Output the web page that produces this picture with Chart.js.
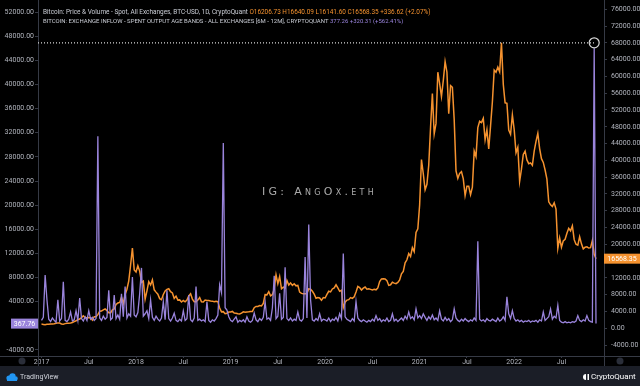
<!DOCTYPE html>
<html>
<head>
<meta charset="utf-8">
<script src="https://cdn.jsdelivr.net/npm/chart.js@4.4.0/dist/chart.umd.min.js"></script>
<style>
html, body { margin: 0; padding: 0; background: #000; }
</style>
</head>
<body>
<canvas id="btcChart" width="640" height="386"></canvas>
<script>
// weekly samples, index i -> year + i/52
var years = [2017, 2018, 2019, 2020, 2021, 2022];

var price2017 = [1000, 910, 820, 925, 920, 1025, 1000, 1055, 1180, 1270, 1230, 1020, 970, 1090, 1190, 1180, 1250, 1350, 1560, 1780, 2040, 2200, 2520, 2950, 2550, 2500, 2560, 2500, 1930, 2750, 2750, 3230, 4060, 4080, 4350, 4600, 4200, 3690, 3660, 4400, 4600, 5680, 6000, 6150, 7400, 5880, 8040, 9300, 11300, 15000, 19100, 13900];
var price2018 = [13400, 14900, 13600, 10900, 11200, 6900, 8900, 11100, 10300, 11500, 9150, 8600, 8100, 7050, 6800, 8050, 8900, 9250, 9400, 8700, 8400, 7100, 7650, 6700, 6750, 6250, 6600, 6300, 6700, 7700, 8200, 6950, 6300, 6300, 6700, 7300, 6300, 6250, 6700, 6600, 6600, 6500, 6450, 6300, 6400, 6350, 4800, 3900, 3950, 3450, 3550, 3850];
var price2019 = [3850, 4000, 3600, 3580, 3430, 3400, 3600, 3900, 3800, 3850, 3900, 4000, 4000, 4900, 5200, 5200, 5400, 5300, 5900, 8000, 7950, 8700, 7700, 8000, 9300, 12700, 10600, 12300, 9400, 9800, 9600, 11400, 10300, 10800, 10200, 10600, 10100, 10200, 8600, 8300, 8200, 8200, 8250, 9400, 9300, 8800, 8100, 7150, 7300, 7200, 6650, 7300];
var price2020 = [7200, 8050, 8800, 8650, 9350, 9600, 10350, 9600, 8800, 9050, 4900, 6200, 6700, 6800, 7300, 7100, 7500, 8650, 9950, 9700, 9100, 9550, 9800, 9300, 9400, 9250, 9100, 9250, 9150, 9600, 11100, 11750, 11800, 11750, 11350, 10200, 10350, 10950, 10750, 10600, 10900, 11500, 12950, 13550, 15600, 16300, 17800, 17100, 19200, 18250, 22800, 23700];
var price2021 = [29400, 40200, 36800, 33000, 34300, 38900, 47900, 55900, 46300, 48800, 61000, 58300, 55200, 59000, 63500, 61000, 51100, 57800, 57400, 49700, 37500, 35700, 36900, 37300, 35600, 31600, 33800, 33800, 31800, 33600, 42200, 40900, 47800, 49300, 49000, 50000, 44900, 47300, 42700, 48200, 53900, 61500, 61000, 62200, 61100, 68000, 58100, 53700, 53600, 47200, 46200, 50800];
var price2022 = [47300, 41800, 43100, 35000, 37900, 41400, 42200, 40100, 39200, 39400, 38800, 42200, 44500, 46400, 42800, 40400, 39500, 37700, 35500, 30100, 29400, 29000, 29900, 28400, 19000, 21500, 19300, 20800, 21200, 22600, 23800, 23200, 24400, 21100, 20000, 19800, 21800, 20100, 18900, 19300, 19400, 19100, 19200, 20900, 17600, 16568.35];

var inflow2017 = [900, 1400, 8400, 4300, 1100, 700, 1300, 900, 600, 4300, 800, 1200, 7300, 900, 700, 1100, 2300, 800, 1000, 2500, 900, 4600, 1200, 800, 1500, 900, 2500, 1100, 1400, 900, 1200, 31400, 1300, 900, 1600, 1100, 1400, 5900, 1000, 1300, 5100, 1200, 1800, 1100, 5300, 1500, 6500, 1300, 2000, 1600, 8100, 1800];
var inflow2018 = [1500, 2200, 5300, 9600, 1600, 2000, 2500, 1200, 4300, 1400, 900, 1600, 1100, 800, 1300, 4000, 1000, 5900, 1200, 800, 1300, 2100, 900, 700, 1100, 800, 2500, 900, 1200, 5100, 1000, 700, 1300, 6500, 900, 1100, 800, 1000, 700, 4000, 900, 600, 1000, 800, 1200, 1800, 6800, 5500, 30300, 3000, 2600, 1500];
var inflow2019 = [900, 700, 1100, 1500, 600, 900, 700, 1000, 600, 1500, 800, 600, 900, 2100, 1000, 700, 1200, 900, 1400, 4000, 1100, 1300, 900, 3000, 8300, 1200, 1600, 5400, 1100, 1400, 9700, 1200, 900, 1300, 800, 1100, 900, 2300, 1000, 800, 1200, 11400, 1300, 16800, 4300, 1000, 800, 1200, 900, 2000, 800, 1100];
var inflow2020 = [1000, 800, 1300, 700, 1100, 900, 1400, 800, 2000, 1200, 12000, 1500, 1100, 900, 700, 1200, 800, 4000, 1300, 900, 700, 1000, 800, 600, 900, 700, 1100, 800, 1700, 900, 1200, 700, 1000, 800, 1300, 700, 900, 2000, 800, 1100, 700, 1000, 1300, 900, 1600, 1100, 2300, 1200, 1500, 1000, 2800, 1300];
var inflow2021 = [1700, 1200, 2000, 1400, 900, 1500, 1100, 1800, 1000, 1300, 900, 2500, 1100, 800, 1400, 900, 1200, 700, 1000, 2800, 1300, 900, 700, 1100, 800, 1200, 900, 700, 1000, 800, 1300, 900, 14000, 1100, 800, 1000, 700, 1200, 900, 800, 1100, 900, 700, 1300, 800, 1000, 1500, 900, 4800, 2000, 1200, 2500];
var inflow2022 = [1200, 800, 1000, 700, 900, 600, 800, 700, 900, 600, 800, 700, 900, 600, 1000, 800, 2300, 900, 1200, 1500, 2800, 1100, 1600, 1300, 3400, 900, 600, 500, 700, 500, 600, 500, 700, 600, 800, 1700, 900, 700, 1000, 800, 1700, 900, 700, 600, 46000, 377.26];

var priceByYear = [price2017, price2018, price2019, price2020, price2021, price2022];
var inflowByYear = [inflow2017, inflow2018, inflow2019, inflow2020, inflow2021, inflow2022];

var athPrice = 68000;
var lastPrice = 16568.35;
var lastInflowLabel = 367.76;

var leftTicks = [-4000, 0, 4000, 8000, 12000, 16000, 20000, 24000, 28000, 32000, 36000, 40000, 44000, 48000, 52000];
var rightTicks = [-4000, 0, 4000, 8000, 12000, 16000, 20000, 24000, 28000, 32000, 36000, 40000, 44000, 48000, 52000, 56000, 60000, 64000, 68000, 72000, 76000];
var xTicks = [2017, 2017.5, 2018, 2018.5, 2019, 2019.5, 2020, 2020.5, 2021, 2021.5, 2022, 2022.5];

var ORANGE = '#f5922f';
var PURPLE = '#9a84dc';
var GREY = '#b2b5be';
var LINE = '#363a45';

function toPoints(byYear) {
  var pts = [];
  byYear.forEach(function (arr, k) {
    arr.forEach(function (v, i) {
      pts.push({ x: years[k] + i / 52, y: v });
    });
  });
  return pts;
}

var pricePts = toPoints(priceByYear);
var inflowPts = toPoints(inflowByYear);

// spike where the dotted ATH marker ends
var spikeIdx = inflow2022.indexOf(Math.max.apply(null, inflow2022));
var spikeX = 2022 + spikeIdx / 52;
var xMin = 2016.963;

// keep the plot flush with the top edge
function noVPad(s) { s.paddingTop = 0; s.paddingBottom = 0; }

var decor = {
  id: 'decor',
  beforeDraw: function (chart) {
    var c = chart.ctx;
    c.save();
    c.fillStyle = '#000';
    c.fillRect(0, 0, 640, 386);
    c.fillStyle = '#1b1e27';
    c.fillRect(0, 366, 640, 20);
    c.restore();
  },
  beforeDatasetsDraw: function (chart) {
    var c = chart.ctx;
    c.save();
    var txt = 'IG: AngOx.eth';
    c.font = 'small-caps 11px "DejaVu Sans"';
    var w = c.measureText(txt).width;
    var sp = (115 - w) / txt.length;
    c.letterSpacing = sp.toFixed(2) + 'px';
    c.fillStyle = 'rgba(200,200,200,0.85)';
    c.textBaseline = 'middle';
    c.textAlign = 'left';
    c.fillText(txt, 262, 192);
    c.restore();
  },
  afterDraw: function (chart) {
    var c = chart.ctx;
    var a = chart.chartArea;
    c.save();

    // header legend rows
    function row(parts, y, target) {
      c.font = '7px Roboto';
      var w0 = c.measureText(parts[0][0]).width;
      var size = 7 * target / w0;
      c.font = size.toFixed(2) + 'px Roboto';
      c.textBaseline = 'middle';
      c.textAlign = 'left';
      var x = 43;
      parts.forEach(function (p) {
        c.fillStyle = p[1];
        c.fillText(p[0], x, y);
        x += c.measureText(p[0]).width;
      });
    }
    row([['Bitcoin: Price & Volume - Spot, All Exchanges, BTC-USD, 1D, CryptoQuant', '#c9ccd4'],
         [' O16206.73 H16640.09 L16141.60 C16568.35 +336.62 (+2.07%)', ORANGE]], 12, 205);
    row([['BITCOIN: EXCHANGE INFLOW - SPENT OUTPUT AGE BANDS - ALL EXCHANGES [6M - 12M], CRYPTOQUANT', '#c9ccd4'],
         [' 377.26 +320.31 (+562.41%)', PURPLE]], 22, 286);

    // price boxes on the axes
    c.font = '7px Roboto';
    c.textAlign = 'center';
    c.textBaseline = 'middle';
    var yl = chart.scales.y.getPixelForValue(lastInflowLabel);
    c.fillStyle = PURPLE;
    c.fillRect(11, yl - 5, a.left - 11, 10);
    c.fillStyle = '#fff';
    c.fillText(lastInflowLabel.toFixed(2), (11 + a.left) / 2, yl + 0.5);
    var yr = chart.scales.y1.getPixelForValue(lastPrice);
    c.fillStyle = ORANGE;
    c.fillRect(a.right, yr - 5, 36, 10);
    c.fillStyle = '#fff';
    c.fillText(lastPrice.toFixed(2), a.right + 18, yr + 0.5);

    // axis frame below the plot
    c.strokeStyle = LINE;
    c.lineWidth = 1;
    c.beginPath();
    c.moveTo(0, a.bottom + 0.5); c.lineTo(640, a.bottom + 0.5);
    c.moveTo(a.left + 0.5, a.bottom); c.lineTo(a.left + 0.5, 366);
    c.moveTo(a.right + 0.5, a.bottom); c.lineTo(a.right + 0.5, 366);
    c.stroke();
    c.fillStyle = '#2a2e39';
    c.beginPath(); c.arc(22, 361, 3.5, 0, Math.PI * 2); c.fill();
    c.beginPath(); c.arc(620, 361, 3.5, 0, Math.PI * 2); c.fill();

    // footer
    c.fillStyle = '#2196f3';
    c.beginPath();
    c.arc(9, 378, 2.6, 0, Math.PI * 2);
    c.arc(12.5, 376.5, 3.2, 0, Math.PI * 2);
    c.arc(15.5, 378.5, 2.3, 0, Math.PI * 2);
    c.fill();
    c.fillRect(7, 378, 10, 3);
    c.fillStyle = '#d1d4dc';
    c.textAlign = 'left';
    c.font = '7px Roboto';
    c.fillText('TradingView', 20, 377);
    c.fillStyle = '#ffffff';
    c.beginPath(); c.arc(586, 377, 3, Math.PI / 2, Math.PI * 1.5); c.fill();
    c.fillRect(587.5, 374, 1.5, 6);
    c.font = '8px Roboto';
    c.fillText('CryptoQuant', 591, 377);
    c.restore();
  }
};

new Chart(document.getElementById('btcChart'), {
  type: 'line',
  data: {
    datasets: [
      {
        label: 'ATH',
        data: [{ x: xMin, y: athPrice }, { x: spikeX, y: athPrice }],
        yAxisID: 'y1',
        borderColor: '#d8d8d8',
        borderWidth: 1.2,
        borderDash: [1, 2],
        pointRadius: [0, 5],
        pointBorderColor: '#d8d8d8',
        pointBorderWidth: 1.2,
        pointBackgroundColor: 'rgba(0,0,0,0)'
      },
      {
        label: 'Exchange inflow 6M-12M',
        data: inflowPts,
        yAxisID: 'y',
        borderColor: PURPLE,
        borderWidth: 1.3,
        pointRadius: 0,
        tension: 0
      },
      {
        label: 'BTC-USD',
        data: pricePts,
        yAxisID: 'y1',
        borderColor: ORANGE,
        borderWidth: 1.5,
        pointRadius: 0,
        tension: 0
      }
    ]
  },
  options: {
    responsive: false,
    animation: false,
    devicePixelRatio: 1,
    layout: { autoPadding: false, padding: { left: 0, right: 0, top: 0, bottom: 20 } },
    plugins: { legend: { display: false }, tooltip: { enabled: false } },
    scales: {
      x: {
        type: 'linear',
        min: xMin,
        max: 2022.95,
        afterBuildTicks: function (s) { s.ticks = xTicks.map(function (v) { return { value: v }; }); },
        afterFit: function (s) { s.height = 10; s.paddingLeft = 0; s.paddingRight = 0; },
        ticks: {
          color: GREY,
          font: { size: 7, family: 'Roboto' },
          padding: 0,
          maxRotation: 0,
          autoSkip: false,
          callback: function (v) { return Number.isInteger(v) ? String(v) : 'Jul'; }
        },
        grid: { drawOnChartArea: false, drawTicks: true, tickLength: 2, color: LINE },
        border: { display: false }
      },
      y: {
        position: 'left',
        min: -5000,
        max: 54000,
        afterBuildTicks: function (s) { s.ticks = leftTicks.map(function (v) { return { value: v }; }); },
        afterFit: function (s) { s.width = 38; noVPad(s); },
        ticks: {
          color: GREY,
          font: { size: 7, family: 'Roboto' },
          padding: 1,
          autoSkip: false,
          callback: function (v) { return v.toFixed(2); }
        },
        grid: { drawOnChartArea: false, tickLength: 3, color: LINE },
        border: { color: LINE }
      },
      y1: {
        position: 'right',
        min: -6620,
        max: 78200,
        afterBuildTicks: function (s) { s.ticks = rightTicks.map(function (v) { return { value: v }; }); },
        afterFit: function (s) { s.width = 36; noVPad(s); },
        ticks: {
          color: GREY,
          font: { size: 7, family: 'Roboto' },
          padding: 4,
          autoSkip: false,
          callback: function (v) { return v.toFixed(2); }
        },
        grid: { drawOnChartArea: false, tickLength: 3, color: LINE },
        border: { color: LINE }
      }
    }
  },
  plugins: [decor]
});
</script>
</body>
</html>
